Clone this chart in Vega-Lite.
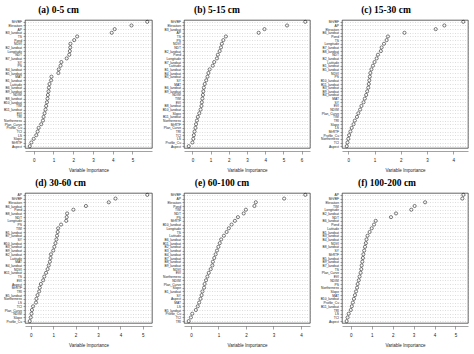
{
  "$schema": "https://vega.github.io/schema/vega-lite/v6.json",
  "background": "white",
  "padding": {"left": 2, "top": 4, "right": 2, "bottom": 2},
  "data": {"values": [
    {"panel":"a","variable":"MrVBF","importance":5.75},
    {"panel":"a","variable":"Elevation","importance":4.95},
    {"panel":"a","variable":"AP","importance":4.1},
    {"panel":"a","variable":"B3_landsat","importance":3.95},
    {"panel":"a","variable":"TS","importance":2.2},
    {"panel":"a","variable":"Pond","importance":2.05},
    {"panel":"a","variable":"NDVI","importance":1.86},
    {"panel":"a","variable":"B2_landsat","importance":1.85},
    {"panel":"a","variable":"Longitude","importance":1.83},
    {"panel":"a","variable":"NDT","importance":1.8},
    {"panel":"a","variable":"B7_landsat","importance":1.67},
    {"panel":"a","variable":"SY","importance":1.4},
    {"panel":"a","variable":"PS","importance":1.36},
    {"panel":"a","variable":"B4_landsat","importance":1.27},
    {"panel":"a","variable":"B5_landsat","importance":1.25},
    {"panel":"a","variable":"MAT","importance":0.9},
    {"panel":"a","variable":"B1_landsat","importance":0.88},
    {"panel":"a","variable":"Latitude","importance":0.8},
    {"panel":"a","variable":"B6_landsat","importance":0.77},
    {"panel":"a","variable":"B9_landsat","importance":0.75},
    {"panel":"a","variable":"NDWI","importance":0.72},
    {"panel":"a","variable":"B8_landsat","importance":0.7},
    {"panel":"a","variable":"B10_landsat","importance":0.67},
    {"panel":"a","variable":"TWI","importance":0.63},
    {"panel":"a","variable":"B11_landsat","importance":0.6},
    {"panel":"a","variable":"EVI","importance":0.55},
    {"panel":"a","variable":"TRI","importance":0.5},
    {"panel":"a","variable":"Northerness","importance":0.47},
    {"panel":"a","variable":"Plan_Curve","importance":0.38},
    {"panel":"a","variable":"Profile_Cu","importance":0.25},
    {"panel":"a","variable":"TCI","importance":0.2},
    {"panel":"a","variable":"LS","importance":0.13},
    {"panel":"a","variable":"Slope","importance":0.0},
    {"panel":"a","variable":"MrRTF","importance":-0.12},
    {"panel":"a","variable":"Aspect","importance":-0.2},

    {"panel":"b","variable":"MrVBF","importance":6.2},
    {"panel":"b","variable":"Elevation","importance":5.2},
    {"panel":"b","variable":"B3_landsat","importance":3.96},
    {"panel":"b","variable":"AP","importance":3.64},
    {"panel":"b","variable":"TS","importance":1.84},
    {"panel":"b","variable":"PS","importance":1.7},
    {"panel":"b","variable":"NDVI","importance":1.62},
    {"panel":"b","variable":"NDT","importance":1.57},
    {"panel":"b","variable":"B2_landsat","importance":1.5},
    {"panel":"b","variable":"Pond","importance":1.4},
    {"panel":"b","variable":"Longitude","importance":1.35},
    {"panel":"b","variable":"B7_landsat","importance":1.2},
    {"panel":"b","variable":"Latitude","importance":1.12},
    {"panel":"b","variable":"B1_landsat","importance":0.95},
    {"panel":"b","variable":"B4_landsat","importance":0.88},
    {"panel":"b","variable":"B5_landsat","importance":0.83},
    {"panel":"b","variable":"SY","importance":0.76},
    {"panel":"b","variable":"MAT","importance":0.68},
    {"panel":"b","variable":"B6_landsat","importance":0.63},
    {"panel":"b","variable":"B9_landsat","importance":0.6},
    {"panel":"b","variable":"NDWI","importance":0.58},
    {"panel":"b","variable":"TWI","importance":0.55},
    {"panel":"b","variable":"EVI","importance":0.52},
    {"panel":"b","variable":"B8_landsat","importance":0.5},
    {"panel":"b","variable":"B10_landsat","importance":0.45},
    {"panel":"b","variable":"Slope","importance":0.38},
    {"panel":"b","variable":"B11_landsat","importance":0.3},
    {"panel":"b","variable":"Northerness","importance":0.25},
    {"panel":"b","variable":"MrRTF","importance":0.2},
    {"panel":"b","variable":"Plan_Curve","importance":0.17},
    {"panel":"b","variable":"TRI","importance":0.12},
    {"panel":"b","variable":"TCI","importance":0.08},
    {"panel":"b","variable":"LS","importance":0.05},
    {"panel":"b","variable":"Profile_Cu","importance":0.0},
    {"panel":"b","variable":"Aspect","importance":-0.2},

    {"panel":"c","variable":"MrVBF","importance":4.38},
    {"panel":"c","variable":"AP","importance":3.66},
    {"panel":"c","variable":"Elevation","importance":3.33},
    {"panel":"c","variable":"B6_landsat","importance":2.14},
    {"panel":"c","variable":"Pond","importance":1.51},
    {"panel":"c","variable":"TS","importance":1.46},
    {"panel":"c","variable":"Longitude","importance":1.36},
    {"panel":"c","variable":"B7_landsat","importance":1.27},
    {"panel":"c","variable":"B8_landsat","importance":1.24},
    {"panel":"c","variable":"NDT","importance":1.13},
    {"panel":"c","variable":"B2_landsat","importance":1.08},
    {"panel":"c","variable":"Latitude","importance":1.0},
    {"panel":"c","variable":"B1_landsat","importance":0.94},
    {"panel":"c","variable":"B5_landsat","importance":0.88},
    {"panel":"c","variable":"NDVI","importance":0.84},
    {"panel":"c","variable":"PS","importance":0.82},
    {"panel":"c","variable":"B10_landsat","importance":0.8},
    {"panel":"c","variable":"B11_landsat","importance":0.78},
    {"panel":"c","variable":"B3_landsat","importance":0.76},
    {"panel":"c","variable":"B9_landsat","importance":0.72},
    {"panel":"c","variable":"B4_landsat","importance":0.68},
    {"panel":"c","variable":"MAT","importance":0.63},
    {"panel":"c","variable":"SY","importance":0.58},
    {"panel":"c","variable":"EVI","importance":0.5},
    {"panel":"c","variable":"NDWI","importance":0.45},
    {"panel":"c","variable":"Plan_Curve","importance":0.38},
    {"panel":"c","variable":"TWI","importance":0.33},
    {"panel":"c","variable":"TRI","importance":0.25},
    {"panel":"c","variable":"Slope","importance":0.2},
    {"panel":"c","variable":"LS","importance":0.13},
    {"panel":"c","variable":"MrRTF","importance":0.08},
    {"panel":"c","variable":"Profile_Cu","importance":0.03},
    {"panel":"c","variable":"Northerness","importance":0.0},
    {"panel":"c","variable":"TCI","importance":-0.03},
    {"panel":"c","variable":"Aspect","importance":-0.06},

    {"panel":"d","variable":"AP","importance":5.2},
    {"panel":"d","variable":"MrVBF","importance":3.78},
    {"panel":"d","variable":"Elevation","importance":3.48},
    {"panel":"d","variable":"B6_landsat","importance":2.46},
    {"panel":"d","variable":"Pond","importance":1.9},
    {"panel":"d","variable":"B8_landsat","importance":1.62},
    {"panel":"d","variable":"NDT","importance":1.6},
    {"panel":"d","variable":"Longitude","importance":1.58},
    {"panel":"d","variable":"PS","importance":1.35},
    {"panel":"d","variable":"TWI","importance":1.22},
    {"panel":"d","variable":"B1_landsat","importance":1.2},
    {"panel":"d","variable":"B7_landsat","importance":1.17},
    {"panel":"d","variable":"SY","importance":1.14},
    {"panel":"d","variable":"B10_landsat","importance":1.1},
    {"panel":"d","variable":"B3_landsat","importance":1.05},
    {"panel":"d","variable":"B9_landsat","importance":1.0},
    {"panel":"d","variable":"B2_landsat","importance":0.9},
    {"panel":"d","variable":"Latitude","importance":0.88},
    {"panel":"d","variable":"MAT","importance":0.85},
    {"panel":"d","variable":"B4_landsat","importance":0.8},
    {"panel":"d","variable":"NDVI","importance":0.75},
    {"panel":"d","variable":"B11_landsat","importance":0.68},
    {"panel":"d","variable":"TS","importance":0.6},
    {"panel":"d","variable":"EVI","importance":0.55},
    {"panel":"d","variable":"Aspect","importance":0.45},
    {"panel":"d","variable":"MrRTF","importance":0.4},
    {"panel":"d","variable":"TRI","importance":0.37},
    {"panel":"d","variable":"B5_landsat","importance":0.3},
    {"panel":"d","variable":"Northerness","importance":0.25},
    {"panel":"d","variable":"LS","importance":0.23},
    {"panel":"d","variable":"TCI","importance":0.1},
    {"panel":"d","variable":"Plan_Curve","importance":0.05},
    {"panel":"d","variable":"NDWI","importance":0.03},
    {"panel":"d","variable":"Slope","importance":0.0},
    {"panel":"d","variable":"Profile_Cu","importance":-0.05},

    {"panel":"e","variable":"MrVBF","importance":4.16},
    {"panel":"e","variable":"AP","importance":3.39},
    {"panel":"e","variable":"Elevation","importance":2.36},
    {"panel":"e","variable":"Pond","importance":2.31},
    {"panel":"e","variable":"TWI","importance":2.0},
    {"panel":"e","variable":"NDT","importance":1.92},
    {"panel":"e","variable":"PS","importance":1.71},
    {"panel":"e","variable":"MrRTF","importance":1.6},
    {"panel":"e","variable":"B10_landsat","importance":1.48},
    {"panel":"e","variable":"Longitude","importance":1.38},
    {"panel":"e","variable":"TS","importance":1.3},
    {"panel":"e","variable":"Latitude","importance":1.2},
    {"panel":"e","variable":"B6_landsat","importance":1.1},
    {"panel":"e","variable":"B11_landsat","importance":1.05},
    {"panel":"e","variable":"B2_landsat","importance":1.0},
    {"panel":"e","variable":"B3_landsat","importance":0.95},
    {"panel":"e","variable":"B4_landsat","importance":0.9},
    {"panel":"e","variable":"B7_landsat","importance":0.85},
    {"panel":"e","variable":"B8_landsat","importance":0.8},
    {"panel":"e","variable":"B9_landsat","importance":0.78},
    {"panel":"e","variable":"NDVI","importance":0.72},
    {"panel":"e","variable":"EVI","importance":0.65},
    {"panel":"e","variable":"Northerness","importance":0.6},
    {"panel":"e","variable":"NDWI","importance":0.55},
    {"panel":"e","variable":"Plan_Curve","importance":0.5},
    {"panel":"e","variable":"Slope","importance":0.48},
    {"panel":"e","variable":"B1_landsat","importance":0.42},
    {"panel":"e","variable":"SY","importance":0.39},
    {"panel":"e","variable":"Aspect","importance":0.35},
    {"panel":"e","variable":"MAT","importance":0.3},
    {"panel":"e","variable":"LS","importance":0.25},
    {"panel":"e","variable":"B5_landsat","importance":0.18},
    {"panel":"e","variable":"Profile_Cu","importance":0.05},
    {"panel":"e","variable":"TCI","importance":0.0},
    {"panel":"e","variable":"TRI","importance":-0.08},

    {"panel":"f","variable":"AP","importance":5.38},
    {"panel":"f","variable":"MrVBF","importance":5.33},
    {"panel":"f","variable":"Elevation","importance":3.55},
    {"panel":"f","variable":"TWI","importance":3.05},
    {"panel":"f","variable":"Longitude","importance":2.89},
    {"panel":"f","variable":"B2_landsat","importance":2.16},
    {"panel":"f","variable":"NDT","importance":1.92},
    {"panel":"f","variable":"B6_landsat","importance":1.19},
    {"panel":"f","variable":"Pond","importance":1.11},
    {"panel":"f","variable":"Latitude","importance":1.0},
    {"panel":"f","variable":"B1_landsat","importance":0.9},
    {"panel":"f","variable":"B3_landsat","importance":0.8},
    {"panel":"f","variable":"B4_landsat","importance":0.75},
    {"panel":"f","variable":"NDVI","importance":0.72},
    {"panel":"f","variable":"B8_landsat","importance":0.68},
    {"panel":"f","variable":"SY","importance":0.64},
    {"panel":"f","variable":"MrRTF","importance":0.6},
    {"panel":"f","variable":"B5_landsat","importance":0.58},
    {"panel":"f","variable":"B9_landsat","importance":0.55},
    {"panel":"f","variable":"B7_landsat","importance":0.52},
    {"panel":"f","variable":"TS","importance":0.5},
    {"panel":"f","variable":"Plan_Curve","importance":0.47},
    {"panel":"f","variable":"EVI","importance":0.42},
    {"panel":"f","variable":"NDWI","importance":0.38},
    {"panel":"f","variable":"PS","importance":0.33},
    {"panel":"f","variable":"Northerness","importance":0.3},
    {"panel":"f","variable":"Slope","importance":0.25},
    {"panel":"f","variable":"MAT","importance":0.2},
    {"panel":"f","variable":"B10_landsat","importance":0.15},
    {"panel":"f","variable":"Profile_Cu","importance":0.1},
    {"panel":"f","variable":"B11_landsat","importance":0.05},
    {"panel":"f","variable":"TRI","importance":0.0},
    {"panel":"f","variable":"LS","importance":-0.1},
    {"panel":"f","variable":"TCI","importance":-0.15},
    {"panel":"f","variable":"Aspect","importance":-0.2}
  ]},
  "vconcat": [
    {"hconcat": [
      {"title": {"text": "(a) 0-5 cm", "dx": -30}, "width": 127, "height": 128,
       "transform": [{"filter": "datum.panel === 'a'"}],
       "mark": {"type": "point", "shape": "circle", "filled": false, "stroke": "black", "strokeWidth": 0.5, "size": 10, "opacity": 1},
       "encoding": {
         "x": {"field": "importance", "type": "quantitative", "scale": {"domain": [-0.44, 5.99], "nice": false, "zero": false}, "axis": {"values": [0,1,2,3,4,5,6], "title": "Variable Importance"}},
         "y": {"field": "variable", "type": "nominal", "sort": "-x", "axis": {"title": null}}}},
      {"title": {"text": "(b) 5-15 cm", "dx": -30}, "width": 126, "height": 128,
       "transform": [{"filter": "datum.panel === 'b'"}],
       "mark": {"type": "point", "shape": "circle", "filled": false, "stroke": "black", "strokeWidth": 0.5, "size": 10, "opacity": 1},
       "encoding": {
         "x": {"field": "importance", "type": "quantitative", "scale": {"domain": [-0.46, 6.46], "nice": false, "zero": false}, "axis": {"values": [0,1,2,3,4,5,6], "title": "Variable Importance"}},
         "y": {"field": "variable", "type": "nominal", "sort": "-x", "axis": {"title": null}}}},
      {"title": {"text": "(c) 15-30 cm", "dx": -19}, "width": 126, "height": 128,
       "transform": [{"filter": "datum.panel === 'c'"}],
       "mark": {"type": "point", "shape": "circle", "filled": false, "stroke": "black", "strokeWidth": 0.5, "size": 10, "opacity": 1},
       "encoding": {
         "x": {"field": "importance", "type": "quantitative", "scale": {"domain": [-0.24, 4.56], "nice": false, "zero": false}, "axis": {"values": [0,1,2,3,4], "title": "Variable Importance"}},
         "y": {"field": "variable", "type": "nominal", "sort": "-x", "axis": {"title": null}}}}
    ]},
    {"hconcat": [
      {"title": {"text": "(d) 30-60 cm", "dx": -28}, "width": 127, "height": 130,
       "transform": [{"filter": "datum.panel === 'd'"}],
       "mark": {"type": "point", "shape": "circle", "filled": false, "stroke": "black", "strokeWidth": 0.5, "size": 10, "opacity": 1},
       "encoding": {
         "x": {"field": "importance", "type": "quantitative", "scale": {"domain": [-0.26, 5.41], "nice": false, "zero": false}, "axis": {"values": [0,1,2,3,4,5], "title": "Variable Importance"}},
         "y": {"field": "variable", "type": "nominal", "sort": "-x", "axis": {"title": null}}}},
      {"title": {"text": "(e) 60-100 cm", "dx": -25}, "width": 126, "height": 130,
       "transform": [{"filter": "datum.panel === 'e'"}],
       "mark": {"type": "point", "shape": "circle", "filled": false, "stroke": "black", "strokeWidth": 0.5, "size": 10, "opacity": 1},
       "encoding": {
         "x": {"field": "importance", "type": "quantitative", "scale": {"domain": [-0.25, 4.33], "nice": false, "zero": false}, "axis": {"values": [0,1,2,3,4], "title": "Variable Importance"}},
         "y": {"field": "variable", "type": "nominal", "sort": "-x", "axis": {"title": null}}}},
      {"title": {"text": "(f) 100-200 cm", "dx": -18}, "width": 126, "height": 130,
       "transform": [{"filter": "datum.panel === 'f'"}],
       "mark": {"type": "point", "shape": "circle", "filled": false, "stroke": "black", "strokeWidth": 0.5, "size": 10, "opacity": 1},
       "encoding": {
         "x": {"field": "importance", "type": "quantitative", "scale": {"domain": [-0.42, 5.6], "nice": false, "zero": false}, "axis": {"values": [0,1,2,3,4,5], "title": "Variable Importance"}},
         "y": {"field": "variable", "type": "nominal", "sort": "-x", "axis": {"title": null}}}}
    ]}
  ],
  "spacing": 4,
  "config": {
    "concat": {"spacing": 8},
    "view": {"stroke": "#222", "strokeWidth": 0.7},
    "title": {"font": "Liberation Serif", "fontSize": 9.5, "fontWeight": "bold", "color": "#000", "offset": 5, "anchor": "middle"},
    "axisX": {"grid": false, "offset": 3, "domainColor": "#444", "domainWidth": 0.5, "tickColor": "#444", "tickWidth": 0.5, "tickSize": 3, "labelFontSize": 4.5, "labelColor": "#222", "labelPadding": 3, "labelFont": "Liberation Sans", "titleFont": "Liberation Sans", "titleFontSize": 4.5, "titleFontWeight": "normal", "titleColor": "#222", "titlePadding": 6},
    "axisY": {"grid": true, "gridColor": "#bbb", "gridDash": [1, 1.5], "gridWidth": 0.5, "domain": false, "tickColor": "#444", "tickWidth": 0.5, "tickSize": 2, "labelFontSize": 3.3, "labelColor": "#222", "labelPadding": 1.5, "labelFont": "Liberation Sans", "labelLimit": 0}
  }
}
